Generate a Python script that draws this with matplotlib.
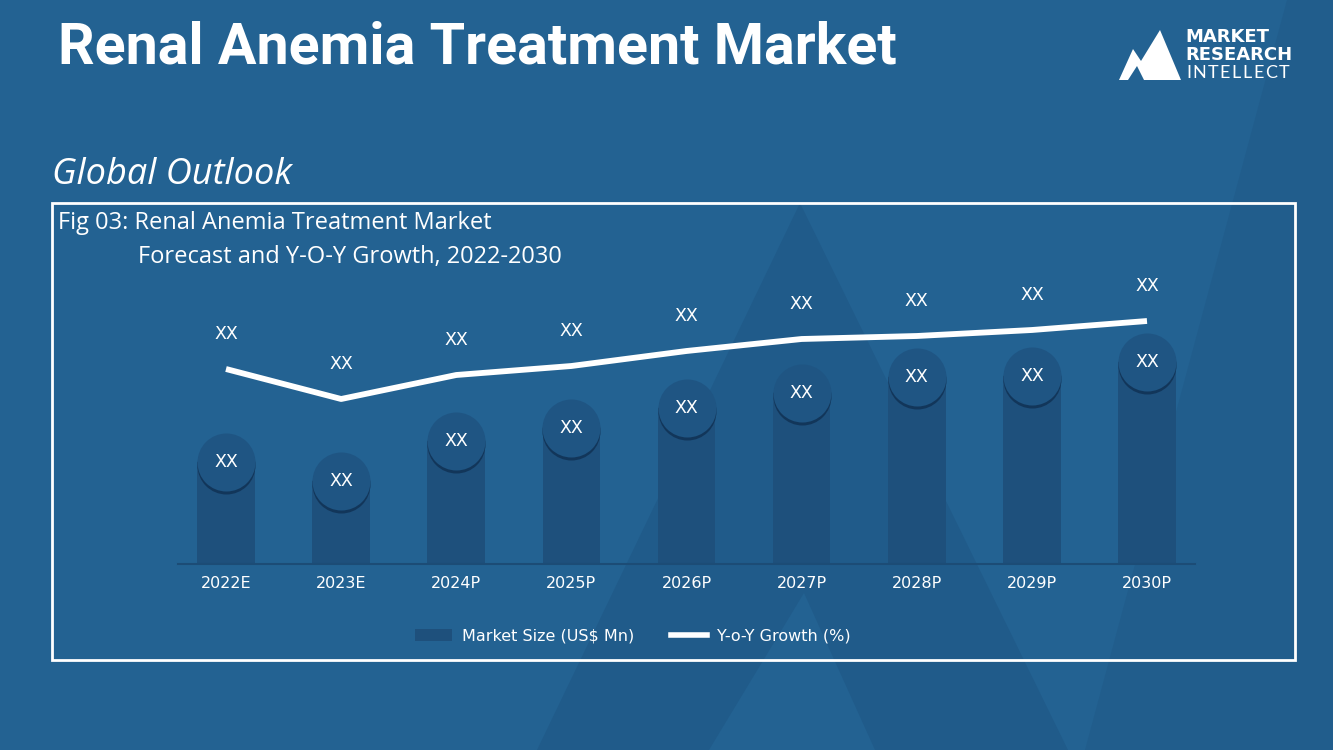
import numpy as np
import matplotlib
matplotlib.use('Agg')
import matplotlib.pyplot as plt
from matplotlib.patches import Polygon, Rectangle
from matplotlib.lines import Line2D
from matplotlib.transforms import offset_copy

# ---------------- data ----------------
years = ['2022E', '2023E', '2024P', '2025P', '2026P', '2027P', '2028P', '2029P', '2030P']
market_size = [1020, 830, 1230, 1360, 1560, 1710, 1870, 1880, 2020]   # US$ Mn (placeholder scale)
yoy_growth = [6.5, 5.5, 6.3, 6.6, 7.1, 7.5, 7.6, 7.8, 8.1]              # %
bar_labels = ['XX'] * 9
line_labels = ['XX'] * 9
legend_labels = ['Market Size (US$ Mn)', 'Y-o-Y Growth (%)']

title = 'Renal Anemia Treatment Market'
subtitle = 'Global Outlook'
fig_title_1 = 'Fig 03: Renal Anemia Treatment Market'
fig_title_2 = 'Forecast and Y-O-Y Growth, 2022-2030'

# ---------------- style ----------------
BG = '#236292'
TRI = '#205b8a'
BAND = '#215d8c'
BAR = '#1e507c'
CIRCLE = '#1f5583'
SHADOW = '#12365a'
AXLINE = '#1c4c76'

W, H = 1333, 750
fig = plt.figure(figsize=(W / 100, H / 100), dpi=100, facecolor=BG)
renderer = fig.canvas.get_renderer()

# background layer in pixel coordinates
bg = fig.add_axes([0, 0, 1, 1], zorder=0)
bg.set_xlim(0, W)
bg.set_ylim(H, 0)
bg.axis('off')
bg.add_patch(Polygon([(1287, 0), (W, 0), (W, H), (1085, H)], closed=True, fc=BAND, ec='none'))
bg.add_patch(Polygon([(800, 203), (537, H), (1068, H)], closed=True, fc=TRI, ec='none'))
bg.add_patch(Polygon([(804, 593), (709, H), (875, H)], closed=True, fc=BG, ec='none'))

# frame box
bg.add_patch(Rectangle((52, 203), 1243, 457, fill=False, ec='white', lw=2))

# titles
bg.text(58, 64, title, color='white', fontsize=41.3, fontweight='bold',
        family='Roboto', ha='left', va='baseline')
bg.text(52, 175, subtitle, color='white', fontsize=26, style='italic',
        family='Open Sans', ha='left', va='center')
bg.text(58, 223, fig_title_1, color='white', fontsize=17, family='Open Sans',
        ha='left', va='center')
bg.text(138, 257, fig_title_2, color='white', fontsize=17, family='Open Sans',
        ha='left', va='center')

# logo
bg.add_patch(Polygon([(1119, 80), (1133, 49), (1141, 61), (1160, 30), (1181, 80),
                      (1144, 80), (1137, 66), (1128, 80)],
                     closed=True, fc='white', ec='none'))
bg.text(1185, 37, 'MARKET', color='white', fontsize=13, fontweight='bold',
        family='DejaVu Sans', ha='left', va='center')
bg.text(1185, 55, 'RESEARCH', color='white', fontsize=13, fontweight='bold',
        family='DejaVu Sans', ha='left', va='center')


def tracked_text(ax, x0, y, s, target_w, **kw):
    """Draw s letter by letter, spread to target width (pixels)."""
    arts = [ax.text(0, y, ch, ha='left', va='center', **kw) for ch in s]
    widths = [a.get_window_extent(renderer).width for a in arts]
    gap = (target_w - sum(widths)) / (len(s) - 1)
    xc = x0
    for a, w in zip(arts, widths):
        a.set_x(xc)
        xc += w + gap


tracked_text(bg, 1186, 73, 'INTELLECT', 103, color='white', fontsize=13, family='Lato')

# ---------------- chart ----------------
ax = fig.add_axes([178 / W, 1 - 564 / H, (1195 - 178) / W, 300 / H], zorder=2)
ax.patch.set_alpha(0)
x = np.arange(len(years))
ax.bar(x, market_size, width=0.5, color=BAR, zorder=2)
ax.set_xlim(-0.417, 8.417)
ax.set_ylim(0, 3000)

circ_s = (58 * 0.72) ** 2
shadow_tr = offset_copy(ax.transData, fig=fig, x=0, y=-3, units='dots')
ax.scatter(x, market_size, s=circ_s, color=SHADOW, transform=shadow_tr, zorder=3, linewidths=0)
ax.scatter(x, market_size, s=circ_s, color=CIRCLE, zorder=4, linewidths=0)
for xi, v, lab in zip(x, market_size, bar_labels):
    ax.text(xi, v, lab, ha='center', va='center', color='white', fontsize=12.5,
            family='DejaVu Sans', zorder=5)

for s in ['top', 'left', 'right']:
    ax.spines[s].set_visible(False)
ax.spines['bottom'].set_color(AXLINE)
ax.spines['bottom'].set_linewidth(1.5)
ax.set_yticks([])
ax.set_xticks(x)
ax.set_xticklabels(years, color='white', fontsize=11.5, family='DejaVu Sans')
ax.tick_params(axis='x', length=0, pad=9)

ax2 = ax.twinx()
ax2.set_ylim(0, 10)
ax2.plot(x, yoy_growth, color='white', lw=4.2, solid_capstyle='butt', zorder=6)
for xi, v, lab in zip(x, yoy_growth, line_labels):
    ax2.annotate(lab, (xi, v), xytext=(0, 25), textcoords='offset points',
                 ha='center', va='center', color='white', fontsize=12.5, family='DejaVu Sans')
ax2.set_yticks([])
for s in ax2.spines.values():
    s.set_visible(False)

handles = [Rectangle((0, 0), 1, 1, fc=BAR, ec='none'),
           Line2D([], [], color='white', lw=4)]
fig.legend(handles, legend_labels, loc='center', bbox_to_anchor=(633 / W, 1 - 636 / H),
           ncol=2, frameon=False, prop={'family': 'DejaVu Sans', 'size': 11.5},
           labelcolor='white', handlelength=2.3, handletextpad=0.6, columnspacing=2.3)

fig.savefig('out.png', dpi=100, facecolor=BG)
